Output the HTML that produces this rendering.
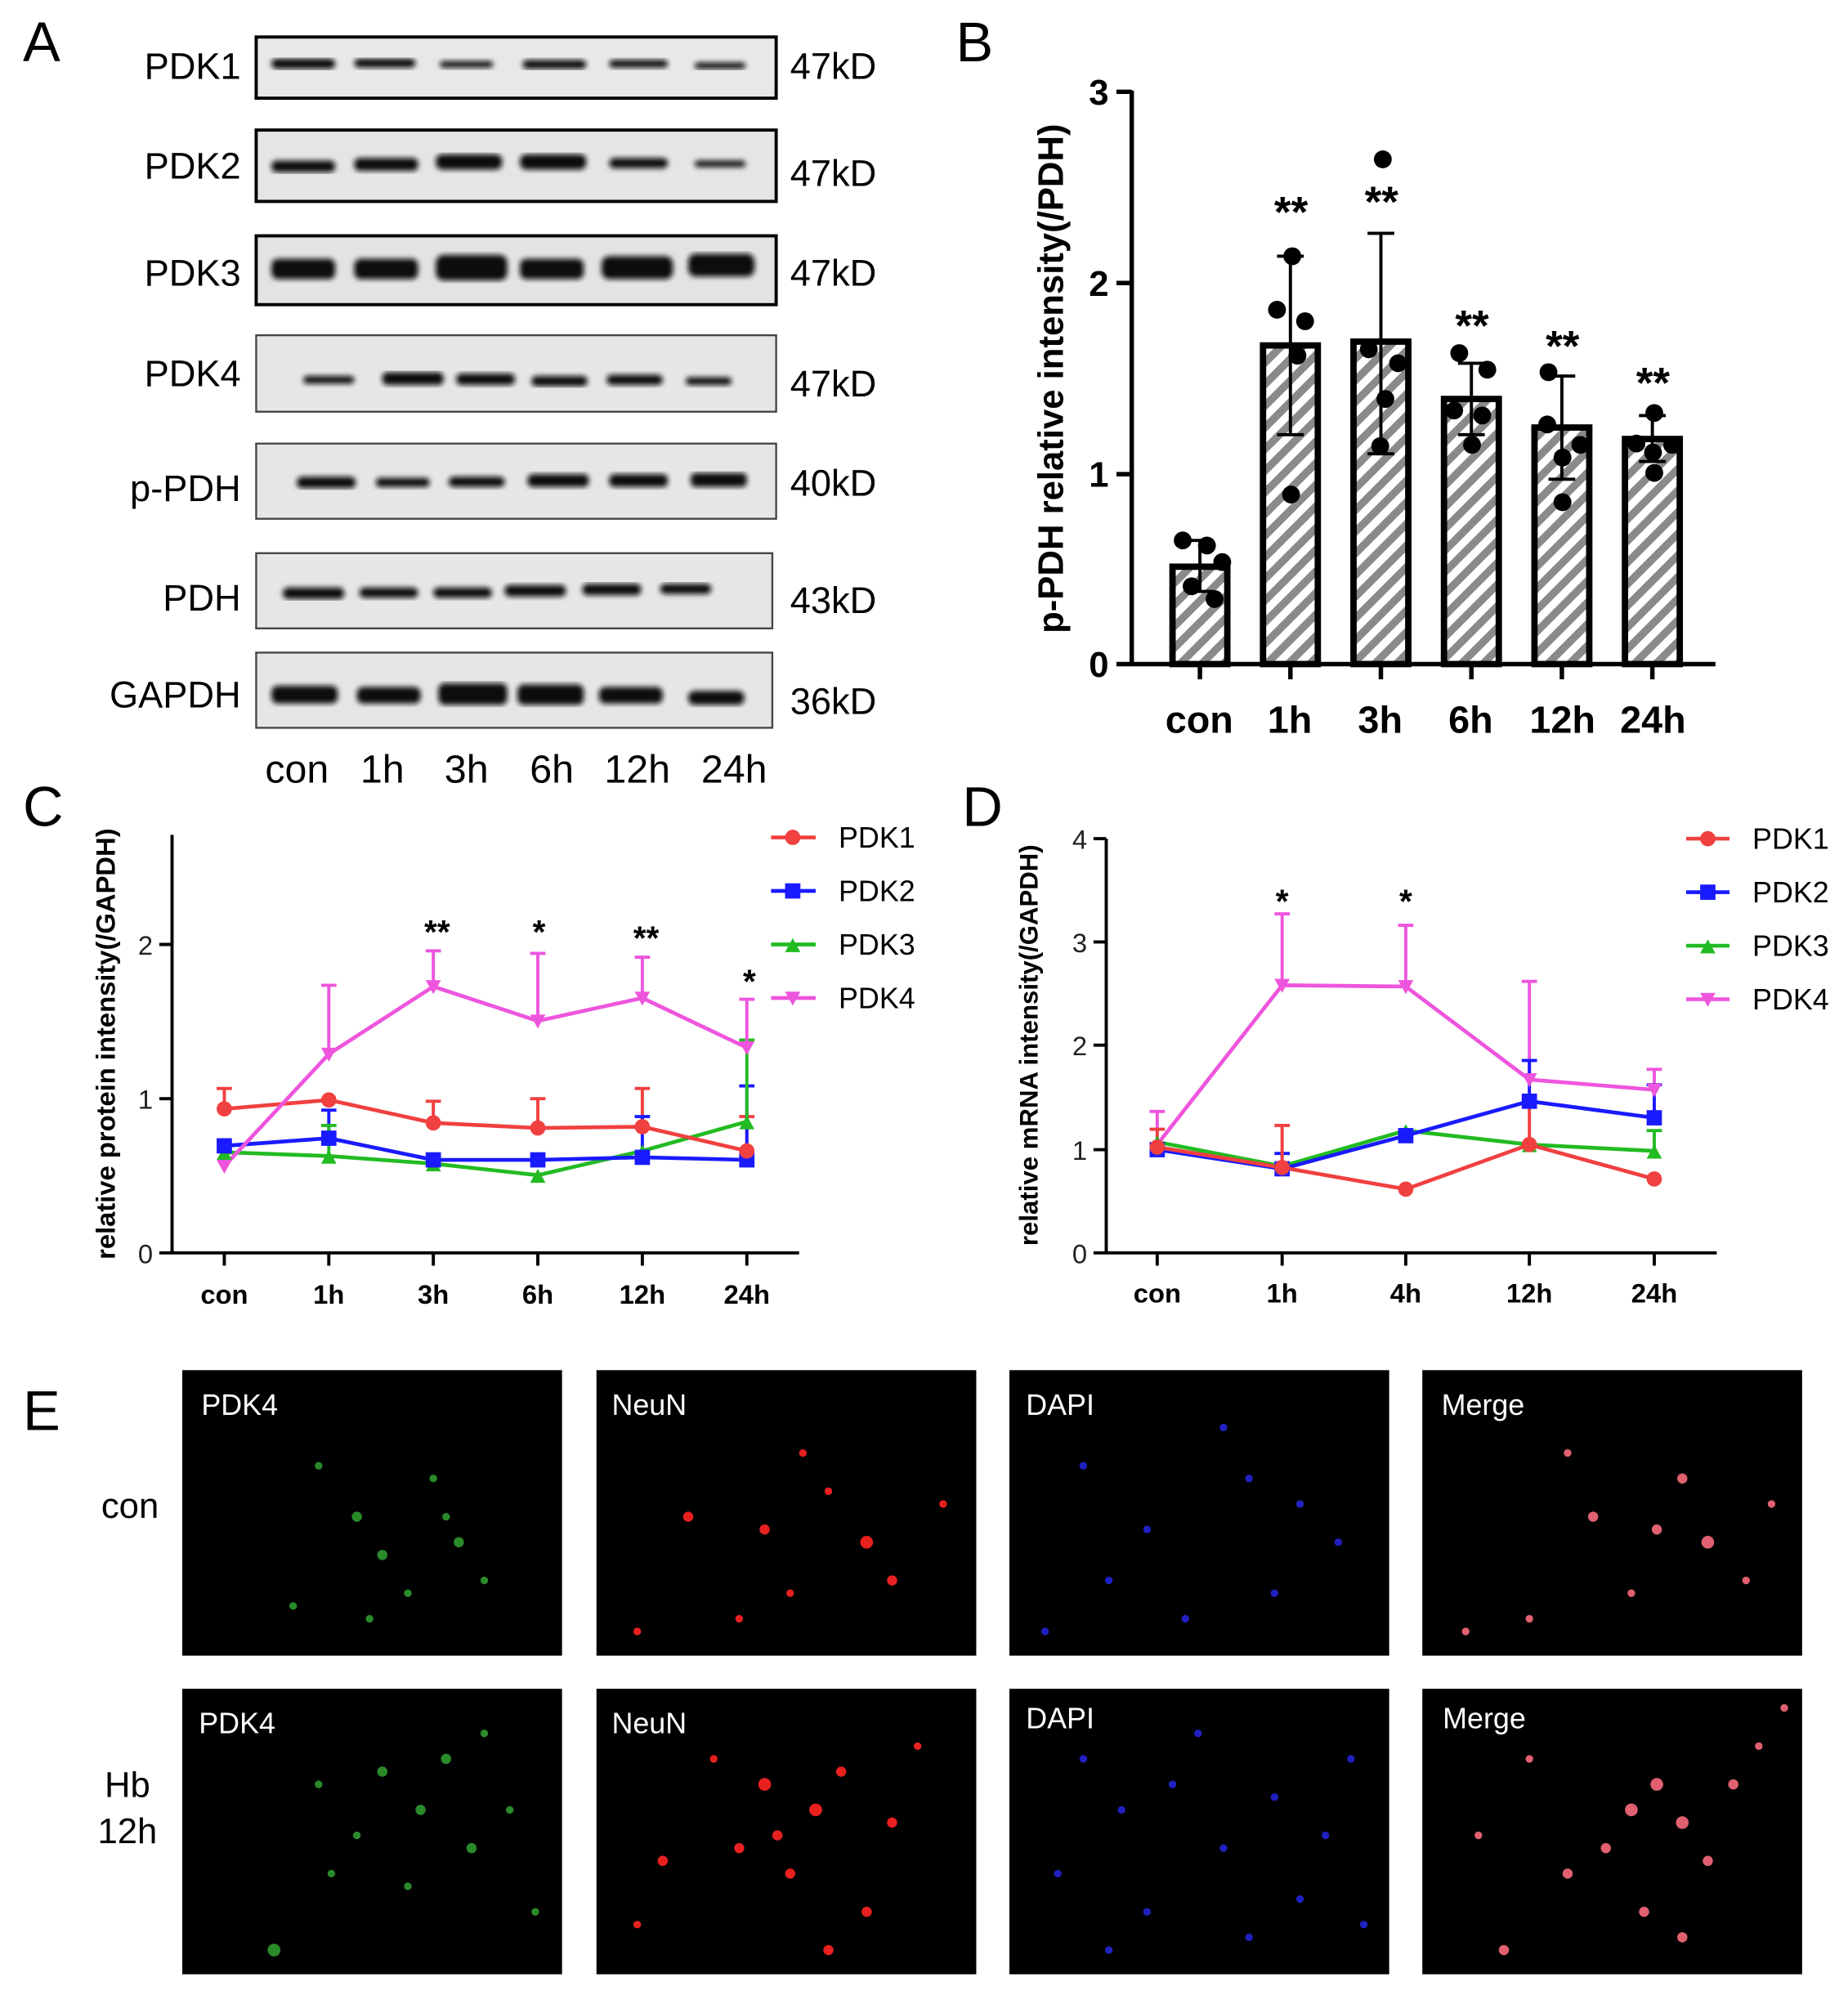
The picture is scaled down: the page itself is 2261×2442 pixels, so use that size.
<!DOCTYPE html>
<html><head><meta charset="utf-8"><style>
html,body{margin:0;padding:0;background:#fff;width:2261px;height:2442px;overflow:hidden}
svg{display:block}
text{font-family:"Liberation Sans",Arial,sans-serif}
</style></head><body>
<svg width="2261" height="2442" viewBox="0 0 1450 1566" xmlns="http://www.w3.org/2000/svg">
<defs>
<pattern id="hatch" patternUnits="userSpaceOnUse" width="12" height="12" patternTransform="rotate(45)">
<rect width="12" height="12" fill="#fff"/><rect width="6" height="12" fill="#8a8a8a"/>
</pattern>
<filter id="blur"><feGaussianBlur stdDeviation="2"/></filter>
</defs>

<!-- Panel labels -->
<text x="18" y="48" font-size="44">A</text>
<text x="750" y="48" font-size="44">B</text>
<text x="18" y="648" font-size="44">C</text>
<text x="755" y="648" font-size="44">D</text>
<text x="18" y="1122" font-size="44">E</text>

<!-- Panel A blots -->
<g font-size="29">
<g>
<rect x="201" y="29" width="408" height="48" fill="#e8e8e8" stroke="#000" stroke-width="2.5"/>
<g fill="#111" filter="url(#blur)"><rect x="213" y="46" width="50" height="8" rx="4"/><rect x="278" y="46" width="48" height="7" rx="4"/><rect x="345" y="48" width="42" height="5" rx="3"/><rect x="410" y="47" width="50" height="7" rx="4"/><rect x="478" y="47" width="46" height="6" rx="3"/><rect x="545" y="49" width="40" height="5" rx="3"/></g>
<text x="189" y="62" text-anchor="end">PDK1</text><text x="620" y="62">47kD</text>
</g>
<g>
<rect x="201" y="102" width="408" height="56" fill="#e5e5e5" stroke="#000" stroke-width="2.5"/>
<g fill="#111" filter="url(#blur)"><rect x="213" y="126" width="50" height="9" rx="4"/><rect x="278" y="124" width="50" height="10" rx="4"/><rect x="342" y="121" width="52" height="12" rx="5"/><rect x="408" y="121" width="52" height="12" rx="5"/><rect x="478" y="124" width="46" height="8" rx="4"/><rect x="545" y="126" width="40" height="5" rx="3"/></g>
<text x="189" y="140" text-anchor="end">PDK2</text><text x="620" y="146">47kD</text>
</g>
<g>
<rect x="201" y="185" width="408" height="54" fill="#e3e3e3" stroke="#000" stroke-width="2.5"/>
<g fill="#111" filter="url(#blur)"><rect x="213" y="203" width="50" height="16" rx="5"/><rect x="278" y="203" width="50" height="16" rx="5"/><rect x="342" y="200" width="56" height="20" rx="6"/><rect x="408" y="203" width="50" height="16" rx="5"/><rect x="472" y="201" width="56" height="18" rx="6"/><rect x="540" y="199" width="52" height="18" rx="6"/></g>
<text x="189" y="224" text-anchor="end">PDK3</text><text x="620" y="224">47kD</text>
</g>
<g>
<rect x="201" y="263" width="408" height="60" fill="#e6e6e6" stroke="#444" stroke-width="1.5"/>
<g fill="#111" filter="url(#blur)"><rect x="238" y="295" width="40" height="6" rx="3"/><rect x="300" y="292" width="48" height="10" rx="4"/><rect x="358" y="293" width="46" height="9" rx="4"/><rect x="417" y="295" width="44" height="8" rx="4"/><rect x="476" y="294" width="44" height="8" rx="4"/><rect x="538" y="296" width="36" height="6" rx="3"/></g>
<text x="189" y="303" text-anchor="end">PDK4</text><text x="620" y="311">47kD</text>
</g>
<g>
<rect x="201" y="348" width="408" height="59" fill="#e6e6e6" stroke="#444" stroke-width="1.5"/>
<g fill="#111" filter="url(#blur)"><rect x="233" y="374" width="46" height="9" rx="4"/><rect x="295" y="375" width="42" height="7" rx="3"/><rect x="352" y="374" width="44" height="8" rx="4"/><rect x="414" y="372" width="48" height="10" rx="4"/><rect x="478" y="372" width="46" height="10" rx="4"/><rect x="542" y="371" width="44" height="11" rx="4"/></g>
<text x="189" y="393" text-anchor="end">p-PDH</text><text x="620" y="389">40kD</text>
</g>
<g>
<rect x="201" y="434" width="405" height="59" fill="#e6e6e6" stroke="#444" stroke-width="1.5"/>
<g fill="#111" filter="url(#blur)"><rect x="222" y="461" width="48" height="9" rx="4"/><rect x="282" y="461" width="46" height="8" rx="4"/><rect x="340" y="461" width="46" height="8" rx="4"/><rect x="396" y="459" width="48" height="9" rx="4"/><rect x="457" y="458" width="46" height="9" rx="4"/><rect x="518" y="458" width="40" height="8" rx="4"/></g>
<text x="189" y="479" text-anchor="end">PDH</text><text x="620" y="481">43kD</text>
</g>
<g>
<rect x="201" y="512" width="405" height="59" fill="#e6e6e6" stroke="#444" stroke-width="1.5"/>
<g fill="#111" filter="url(#blur)"><rect x="213" y="538" width="52" height="14" rx="5"/><rect x="280" y="539" width="50" height="13" rx="5"/><rect x="344" y="536" width="54" height="17" rx="5"/><rect x="406" y="537" width="52" height="16" rx="5"/><rect x="470" y="539" width="50" height="13" rx="5"/><rect x="540" y="542" width="44" height="11" rx="5"/></g>
<text x="189" y="555" text-anchor="end">GAPDH</text><text x="620" y="560">36kD</text>
</g>
<g font-size="31" text-anchor="middle">
<text x="233" y="614">con</text><text x="300" y="614">1h</text><text x="366" y="614">3h</text><text x="433" y="614">6h</text><text x="500" y="614">12h</text><text x="576" y="614">24h</text>
</g>
</g>

<!-- Panel B -->
<g>
<g fill="url(#hatch)" stroke="#000" stroke-width="5">
<rect x="920" y="444.6" width="43" height="76.4"/>
<rect x="991" y="271" width="43" height="250"/>
<rect x="1062" y="268" width="43" height="253"/>
<rect x="1133" y="313" width="43" height="208"/>
<rect x="1204" y="335.4" width="43" height="185.6"/>
<rect x="1275" y="344.4" width="43" height="176.6"/>
</g>
<g stroke="#000" stroke-width="2.5" fill="none">
<path d="M941.5 424V464M931 424H952M931 464H952"/>
<path d="M1012.5 201V341M1002 201H1023M1002 341H1023"/>
<path d="M1083.5 183V356M1073 183H1094M1073 356H1094"/>
<path d="M1154.5 285V341M1144 285H1165M1144 341H1165"/>
<path d="M1225.5 295V376M1215 295H1236M1215 376H1236"/>
<path d="M1296.5 326V362M1286 326H1307M1286 362H1307"/>
</g>
<g fill="#000">
<circle cx="928" cy="424" r="7"/><circle cx="947" cy="428" r="7"/><circle cx="959" cy="441" r="7"/><circle cx="935" cy="460" r="7"/><circle cx="953" cy="470" r="7"/>
<circle cx="1014" cy="201" r="7"/><circle cx="1002" cy="243" r="7"/><circle cx="1024" cy="252" r="7"/><circle cx="1018" cy="279" r="7"/><circle cx="1013" cy="388" r="7"/>
<circle cx="1085" cy="125" r="7"/><circle cx="1074" cy="274" r="7"/><circle cx="1097" cy="285" r="7"/><circle cx="1087" cy="313" r="7"/><circle cx="1083" cy="350" r="7"/>
<circle cx="1145" cy="277" r="7"/><circle cx="1167" cy="290" r="7"/><circle cx="1141" cy="322" r="7"/><circle cx="1163" cy="326" r="7"/><circle cx="1155" cy="349" r="7"/>
<circle cx="1215" cy="292" r="7"/><circle cx="1214" cy="333" r="7"/><circle cx="1240" cy="349" r="7"/><circle cx="1226" cy="359" r="7"/><circle cx="1226" cy="394" r="7"/>
<circle cx="1298" cy="324" r="7"/><circle cx="1284" cy="348" r="7"/><circle cx="1312" cy="349" r="7"/><circle cx="1297" cy="355" r="7"/><circle cx="1298" cy="371" r="7"/>
</g>
<g font-size="34" font-weight="bold" text-anchor="middle">
<text x="1013" y="178">**</text><text x="1084" y="170">**</text><text x="1155" y="267">**</text><text x="1226" y="283">**</text><text x="1297" y="312">**</text>
</g>
<path d="M888 71V521H1346M876 72H888M876 222H888M876 372H888M876 521H888M941.5 521V533M1012.5 521V533M1083.5 521V533M1154.5 521V533M1225.5 521V533M1296.5 521V533" stroke="#000" stroke-width="3.5" fill="none"/>
<g font-size="28" font-weight="bold" text-anchor="end">
<text x="870" y="82">3</text><text x="870" y="232">2</text><text x="870" y="382">1</text><text x="870" y="531">0</text>
</g>
<g font-size="30" font-weight="bold" text-anchor="middle">
<text x="941" y="575">con</text><text x="1012" y="575">1h</text><text x="1083" y="575">3h</text><text x="1154" y="575">6h</text><text x="1226" y="575">12h</text><text x="1297" y="575">24h</text>
</g>
<text transform="translate(834 297) rotate(-90)" font-size="28" font-weight="bold" text-anchor="middle">p-PDH relative  intensity(/PDH)</text>
</g>

<!-- Panel C -->
<g>
<path d="M135 655V983H627M125 741H135M125 862H135M125 983H135M176 983V993M258 983V993M340 983V993M422 983V993M504 983V993M586 983V993" stroke="#000" stroke-width="2.5" fill="none"/>
<g font-size="21" fill="#222" text-anchor="end"><text x="120" y="749">2</text><text x="120" y="870">1</text><text x="120" y="991">0</text></g>
<g font-size="21" font-weight="bold" text-anchor="middle"><text x="176" y="1023">con</text><text x="258" y="1023">1h</text><text x="340" y="1023">3h</text><text x="422" y="1023">6h</text><text x="504" y="1023">12h</text><text x="586" y="1023">24h</text></g>
<text transform="translate(90 819) rotate(-90)" font-size="21" font-weight="bold" text-anchor="middle">relative protein intensity(/GAPDH)</text>
<!-- error bars -->
<g stroke-width="2.5" fill="none">
<path stroke="#f04040" d="M176 870V854M170 854H182M340 881V864M334 864H346M422 885V862M416 862H428M504 884V854M498 854H510M586 903V876M580 876H592"/>
<path stroke="#1a1aff" d="M258 894V871M252 871H264M504 908V876M498 876H510M586 911V852M580 852H592"/>
<path stroke="#22bb22" d="M586 880V816M580 816H592M258 907V883M252 883H264"/>
<path stroke="#ee55dd" d="M258 827V773M252 773H264M340 774V746M334 746H346M422 801V748M416 748H428M504 784V751M498 751H510M586 822V784M580 784H592"/>
</g>
<polyline points="176,904 258,907 340,913 422,922 504,903 586,880" stroke="#22bb22" stroke-width="3" fill="none"/>
<polyline points="176,899 258,893 340,910 422,910 504,908 586,910" stroke="#1a1aff" stroke-width="3" fill="none"/>
<polyline points="176,870 258,863 340,881 422,885 504,884 586,903" stroke="#f04040" stroke-width="3" fill="none"/>
<polyline points="176,915 258,827 340,774 422,801 504,783 586,822" stroke="#ee55dd" stroke-width="3" fill="none"/>
<g fill="#22bb22"><path d="M170 910L176 899L182 910Z"/><path d="M252 913L258 902L264 913Z"/><path d="M334 919L340 908L346 919Z"/><path d="M416 928L422 917L428 928Z"/><path d="M498 909L504 898L510 909Z"/><path d="M580 886L586 875L592 886Z"/></g>
<g fill="#1a1aff"><rect x="170" y="893" width="12" height="12"/><rect x="252" y="887" width="12" height="12"/><rect x="334" y="904" width="12" height="12"/><rect x="416" y="904" width="12" height="12"/><rect x="498" y="902" width="12" height="12"/><rect x="580" y="904" width="12" height="12"/></g>
<g fill="#f04040"><circle cx="176" cy="870" r="6"/><circle cx="258" cy="863" r="6"/><circle cx="340" cy="881" r="6"/><circle cx="422" cy="885" r="6"/><circle cx="504" cy="884" r="6"/><circle cx="586" cy="903" r="6"/></g>
<g fill="#ee55dd"><path d="M170 910L176 921L182 910Z"/><path d="M252 822L258 833L264 822Z"/><path d="M334 769L340 780L346 769Z"/><path d="M416 796L422 807L428 796Z"/><path d="M498 778L504 789L510 778Z"/><path d="M580 817L586 828L592 817Z"/></g>
<g font-size="26" font-weight="bold" text-anchor="middle"><text x="343" y="740">**</text><text x="423" y="740">*</text><text x="507" y="745">**</text><text x="588" y="779">*</text></g>
<g font-size="23">
<path d="M605 657H640" stroke="#f04040" stroke-width="3"/><circle cx="622" cy="657" r="6" fill="#f04040"/><text x="658" y="665">PDK1</text>
<path d="M605 699H640" stroke="#1a1aff" stroke-width="3"/><rect x="616" y="693" width="12" height="12" fill="#1a1aff"/><text x="658" y="707">PDK2</text>
<path d="M605 741H640" stroke="#22bb22" stroke-width="3"/><path d="M616 747L622 736L628 747Z" fill="#22bb22"/><text x="658" y="749">PDK3</text>
<path d="M605 783H640" stroke="#ee55dd" stroke-width="3"/><path d="M616 778L622 789L628 778Z" fill="#ee55dd"/><text x="658" y="791">PDK4</text>
</g>
</g>

<!-- Panel D -->
<g>
<path d="M868 658V983H1347M858 658H868M858 739H868M858 820H868M858 902H868M858 983H868M908 983V993M1006 983V993M1103 983V993M1200 983V993M1298 983V993" stroke="#000" stroke-width="2.5" fill="none"/>
<g font-size="21" fill="#222" text-anchor="end"><text x="853" y="666">4</text><text x="853" y="747">3</text><text x="853" y="828">2</text><text x="853" y="910">1</text><text x="853" y="991">0</text></g>
<g font-size="21" font-weight="bold" text-anchor="middle"><text x="908" y="1022">con</text><text x="1006" y="1022">1h</text><text x="1103" y="1022">4h</text><text x="1200" y="1022">12h</text><text x="1298" y="1022">24h</text></g>
<text transform="translate(814 820) rotate(-90)" font-size="20" font-weight="bold" text-anchor="middle">relative mRNA intensity(/GAPDH)</text>
<g stroke-width="2.5" fill="none">
<path stroke="#ee55dd" d="M908 898V872M902 872H914M1006 773V717M1000 717H1012M1103 774V726M1097 726H1109M1200 847V770M1194 770H1206M1298 855V839M1292 839H1304"/>
<path stroke="#1a1aff" d="M1006 917V905M1000 905H1012M1200 864V832M1194 832H1206M1298 876V851M1292 851H1304"/>
<path stroke="#22bb22" d="M1298 903V887M1292 887H1304"/>
<path stroke="#f04040" d="M908 900V886M902 886H914M1006 916V883M1000 883H1012M1200 898V867M1194 867H1206"/>
</g>
<polyline points="908,896 1006,915 1103,887 1200,898 1298,903" stroke="#22bb22" stroke-width="3" fill="none"/>
<polyline points="908,902 1006,917 1103,891 1200,864 1298,877" stroke="#1a1aff" stroke-width="3" fill="none"/>
<polyline points="908,900 1006,916 1103,933 1200,898 1298,925" stroke="#f04040" stroke-width="3" fill="none"/>
<polyline points="908,898 1006,773 1103,774 1200,847 1298,855" stroke="#ee55dd" stroke-width="3" fill="none"/>
<g fill="#22bb22"><path d="M902 902L908 891L914 902Z"/><path d="M1097 893L1103 882L1109 893Z"/><path d="M1194 904L1200 893L1206 904Z"/><path d="M1292 909L1298 898L1304 909Z"/></g>
<g fill="#1a1aff"><rect x="902" y="896" width="12" height="12"/><rect x="1000" y="911" width="12" height="12"/><rect x="1097" y="885" width="12" height="12"/><rect x="1194" y="858" width="12" height="12"/><rect x="1292" y="871" width="12" height="12"/></g>
<g fill="#f04040"><circle cx="908" cy="900" r="6"/><circle cx="1006" cy="916" r="6"/><circle cx="1103" cy="933" r="6"/><circle cx="1200" cy="898" r="6"/><circle cx="1298" cy="925" r="6"/></g>
<g fill="#ee55dd"><path d="M1000 768L1006 779L1012 768Z"/><path d="M1097 769L1103 780L1109 769Z"/><path d="M1194 842L1200 853L1206 842Z"/><path d="M1292 850L1298 861L1304 850Z"/></g>
<g font-size="26" font-weight="bold" text-anchor="middle"><text x="1006" y="716">*</text><text x="1103" y="716">*</text></g>
<g font-size="23">
<path d="M1323 658H1357" stroke="#f04040" stroke-width="3"/><circle cx="1340" cy="658" r="6" fill="#f04040"/><text x="1375" y="666">PDK1</text>
<path d="M1323 700H1357" stroke="#1a1aff" stroke-width="3"/><rect x="1334" y="694" width="12" height="12" fill="#1a1aff"/><text x="1375" y="708">PDK2</text>
<path d="M1323 742H1357" stroke="#22bb22" stroke-width="3"/><path d="M1334 748L1340 737L1346 748Z" fill="#22bb22"/><text x="1375" y="750">PDK3</text>
<path d="M1323 784H1357" stroke="#ee55dd" stroke-width="3"/><path d="M1334 779L1340 790L1346 779Z" fill="#ee55dd"/><text x="1375" y="792">PDK4</text>
</g>
</g>

<!-- Panel E -->
<g>
<text x="102" y="1191" font-size="28" text-anchor="middle">con</text>
<text x="100" y="1410" font-size="28" text-anchor="middle">Hb</text>
<text x="100" y="1446" font-size="28" text-anchor="middle">12h</text>
<g fill="#000">
<rect x="143" y="1075" width="298" height="224"/><rect x="468" y="1075" width="298" height="224"/><rect x="792" y="1075" width="298" height="224"/><rect x="1116" y="1075" width="298" height="224"/>
<rect x="143" y="1325" width="298" height="224"/><rect x="468" y="1325" width="298" height="224"/><rect x="792" y="1325" width="298" height="224"/><rect x="1116" y="1325" width="298" height="224"/>
</g>
<!-- dots -->
<g fill="#2a8a2a">
<circle cx="280" cy="1190" r="4"/><circle cx="300" cy="1220" r="4"/><circle cx="340" cy="1160" r="3"/><circle cx="360" cy="1210" r="4"/><circle cx="320" cy="1250" r="3"/><circle cx="250" cy="1150" r="3"/><circle cx="380" cy="1240" r="3"/><circle cx="230" cy="1260" r="3"/><circle cx="290" cy="1270" r="3"/><circle cx="350" cy="1190" r="3"/>
<circle cx="300" cy="1390" r="4"/><circle cx="330" cy="1420" r="4"/><circle cx="350" cy="1380" r="4"/><circle cx="280" cy="1440" r="3"/><circle cx="370" cy="1450" r="4"/><circle cx="250" cy="1400" r="3"/><circle cx="320" cy="1480" r="3"/><circle cx="400" cy="1420" r="3"/><circle cx="215" cy="1530" r="5"/><circle cx="380" cy="1360" r="3"/><circle cx="260" cy="1470" r="3"/><circle cx="420" cy="1500" r="3"/>
</g>
<g fill="#e82020">
<circle cx="540" cy="1190" r="4"/><circle cx="600" cy="1200" r="4"/><circle cx="680" cy="1210" r="5"/><circle cx="650" cy="1170" r="3"/><circle cx="620" cy="1250" r="3"/><circle cx="700" cy="1240" r="4"/><circle cx="580" cy="1270" r="3"/><circle cx="630" cy="1140" r="3"/><circle cx="740" cy="1180" r="3"/><circle cx="500" cy="1280" r="3"/>
<circle cx="600" cy="1400" r="5"/><circle cx="640" cy="1420" r="5"/><circle cx="660" cy="1390" r="4"/><circle cx="580" cy="1450" r="4"/><circle cx="700" cy="1430" r="4"/><circle cx="520" cy="1460" r="4"/><circle cx="620" cy="1470" r="4"/><circle cx="680" cy="1500" r="4"/><circle cx="560" cy="1380" r="3"/><circle cx="720" cy="1370" r="3"/><circle cx="500" cy="1510" r="3"/><circle cx="650" cy="1530" r="4"/><circle cx="610" cy="1440" r="4"/>
</g>
<g fill="#2020c0">
<circle cx="850" cy="1150" r="3"/><circle cx="900" cy="1200" r="3"/><circle cx="980" cy="1160" r="3"/><circle cx="1000" cy="1250" r="3"/><circle cx="930" cy="1270" r="3"/><circle cx="1050" cy="1210" r="3"/><circle cx="870" cy="1240" r="3"/><circle cx="960" cy="1120" r="3"/><circle cx="1020" cy="1180" r="3"/><circle cx="820" cy="1280" r="3"/>
<circle cx="850" cy="1380" r="3"/><circle cx="880" cy="1420" r="3"/><circle cx="920" cy="1400" r="3"/><circle cx="960" cy="1450" r="3"/><circle cx="1000" cy="1410" r="3"/><circle cx="1040" cy="1440" r="3"/><circle cx="830" cy="1470" r="3"/><circle cx="900" cy="1500" r="3"/><circle cx="980" cy="1520" r="3"/><circle cx="1060" cy="1380" r="3"/><circle cx="940" cy="1360" r="3"/><circle cx="1020" cy="1490" r="3"/><circle cx="870" cy="1530" r="3"/><circle cx="1070" cy="1510" r="3"/>
</g>
<g fill="#e06070">
<circle cx="1250" cy="1190" r="4"/><circle cx="1300" cy="1200" r="4"/><circle cx="1340" cy="1210" r="5"/><circle cx="1320" cy="1160" r="4"/><circle cx="1280" cy="1250" r="3"/><circle cx="1370" cy="1240" r="3"/><circle cx="1230" cy="1140" r="3"/><circle cx="1200" cy="1270" r="3"/><circle cx="1390" cy="1180" r="3"/><circle cx="1150" cy="1280" r="3"/>
<circle cx="1280" cy="1420" r="5"/><circle cx="1300" cy="1400" r="5"/><circle cx="1320" cy="1430" r="5"/><circle cx="1260" cy="1450" r="4"/><circle cx="1340" cy="1460" r="4"/><circle cx="1360" cy="1400" r="4"/><circle cx="1230" cy="1470" r="4"/><circle cx="1290" cy="1500" r="4"/><circle cx="1380" cy="1370" r="3"/><circle cx="1160" cy="1440" r="3"/><circle cx="1320" cy="1520" r="4"/><circle cx="1200" cy="1380" r="3"/><circle cx="1400" cy="1340" r="3"/><circle cx="1180" cy="1530" r="4"/>
</g>
<g font-size="23" fill="#fff">
<text x="158" y="1110">PDK4</text><text x="480" y="1110">NeuN</text><text x="805" y="1110">DAPI</text><text x="1131" y="1110">Merge</text>
<text x="156" y="1360">PDK4</text><text x="480" y="1360">NeuN</text><text x="805" y="1356">DAPI</text><text x="1132" y="1356">Merge</text>
</g>
</g>
</svg>
</body></html>
